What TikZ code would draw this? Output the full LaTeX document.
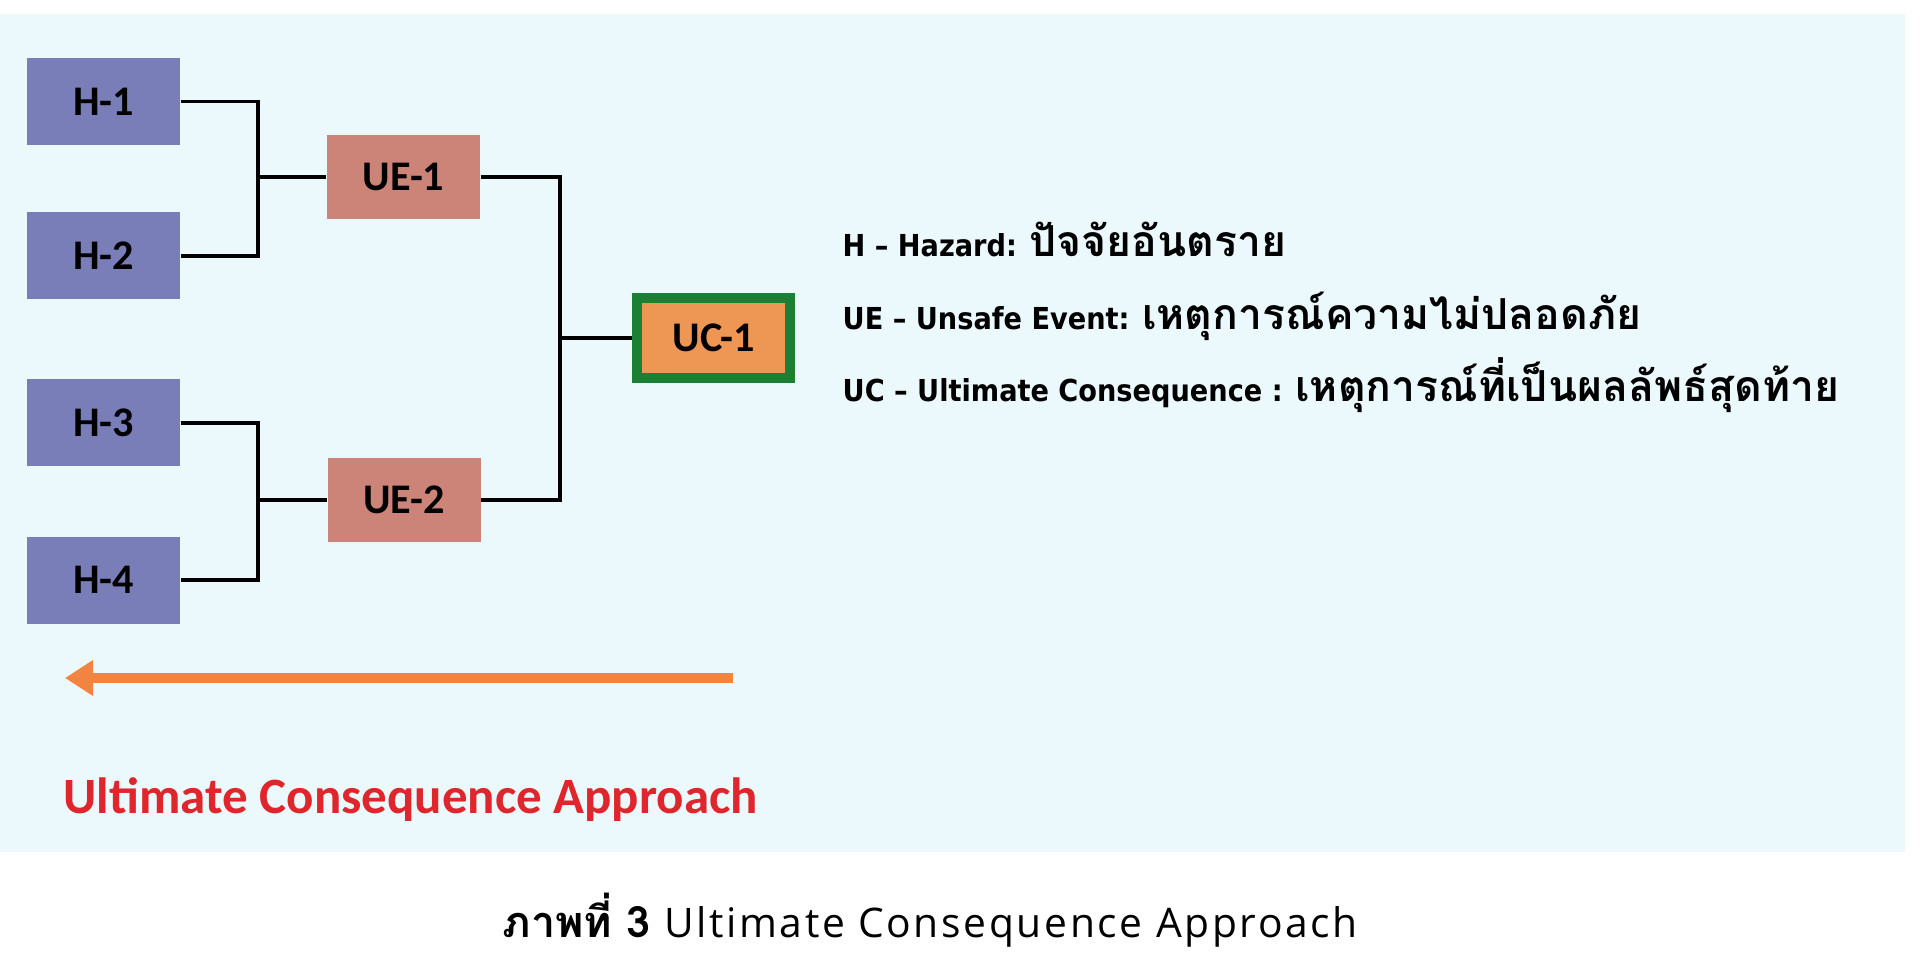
\documentclass[tikz,border=0pt]{standalone}
\usepackage{fontspec}
\setmainfont{DejaVu Sans}
\newfontfamily\thaifont[Script=Thai,Scale=1.5]{Loma}
\newfontfamily\legfont{DejaVu Sans Condensed}
\newfontfamily\boxfont{Carlito}
\newfontfamily\capfont[LetterSpace=6.5]{Open Sans}
\usetikzlibrary{arrows.meta}
\definecolor{bgcyan}{RGB}{235,249,252}
\definecolor{hazardblue}{RGB}{122,126,184}
\definecolor{eventrose}{RGB}{204,132,120}
\definecolor{consorange}{RGB}{238,150,84}
\definecolor{consgreen}{RGB}{28,128,52}
\definecolor{arroworange}{RGB}{240,132,64}
\definecolor{titlered}{RGB}{222,38,44}
\begin{document}
\begin{tikzpicture}[
    hazard/.style={fill=hazardblue, minimum width=1.53cm, minimum height=0.87cm, inner sep=0pt,
        font=\boxfont\bfseries\fontsize{12}{14}\selectfont},
    unsafe/.style={hazard, fill=eventrose, minimum height=0.84cm},
    ultimate/.style={hazard, fill=consorange, draw=consgreen, line width=1mm, minimum height=0.80cm},
    link/.style={line width=0.9pt},
    legend/.style={anchor=base west, inner sep=0pt, font=\legfont\bfseries\fontsize{8.6}{10}\selectfont}
]
    % Fondo
    \useasboundingbox (0,0) rectangle (19.2,9.58);
    \fill[bgcyan] (0,1.06) rectangle (19.05,9.44);
    % Peligros H
    \node[hazard] (h1) at (1.035,8.565) {H-1};
    \node[hazard] (h2) at (1.035,7.02) {H-2};
    \node[hazard] (h3) at (1.035,5.35) {H-3};
    \node[hazard] (h4) at (1.035,3.78) {H-4};
    % Eventos UE
    \node[unsafe] (ue1) at (4.035,7.81) {UE-1};
    \node[unsafe] (ue2) at (4.04,4.58) {UE-2};
    % Consecuencia UC
    \node[ultimate] (uc1) at (7.135,6.20) {UC-1};
    % Uniones
    \coordinate (j1) at (2.58,7.81);
    \coordinate (j2) at (2.58,4.58);
    \coordinate (j3) at (5.60,6.20);
    \draw[link] (h1.east) -| (j1) |- (h2.east);
    \draw[link] (j1) -- (ue1.west);
    \draw[link] (h3.east) -| (j2) |- (h4.east);
    \draw[link] (j2) -- (ue2.west);
    \draw[link] (ue1.east) -| (j3) |- (ue2.east);
    \draw[link] (j3) -- (uc1.west);
    % Flecha del enfoque
    \coordinate (arrowstart) at (7.33,2.80);
    \coordinate (arrowend) at (0.65,2.80);
    \draw[arroworange, line width=1mm, -{Triangle[length=0.28cm,width=0.34cm]}] (arrowstart) -- (arrowend);
    \node[anchor=base west, inner sep=0pt, text=titlered, font=\boxfont\bfseries\fontsize{14.5}{17}\selectfont]
        (title) at (0.63,1.45) {Ultimate Consequence Approach};
    % Leyenda
    \node[legend] (legh) at (8.42,7.01) {H – Hazard: {\thaifont\fontsize{8.1}{10}\selectfont ปัจจัยอันตราย}};
    \node[legend] (legue) at (8.42,6.28) {UE – Unsafe Event: {\thaifont\fontsize{8.1}{10}\selectfont เหตุการณ์ความไม่ปลอดภัย}};
    \node[legend] (leguc) at (8.42,5.56) {UC – Ultimate Consequence : {\thaifont\fontsize{8.1}{10}\selectfont เหตุการณ์ที่เป็นผลลัพธ์สุดท้าย}};
    % Pie de figura
    \node[anchor=base west, inner sep=0pt, font=\fontsize{11.6}{14}\selectfont] (caption) at (5.02,0.21)
        {{\thaifont\bfseries\fontsize{8.2}{12}\selectfont ภาพที่ 3} {\capfont Ultimate Consequence Approach}};
\end{tikzpicture}
\end{document}
